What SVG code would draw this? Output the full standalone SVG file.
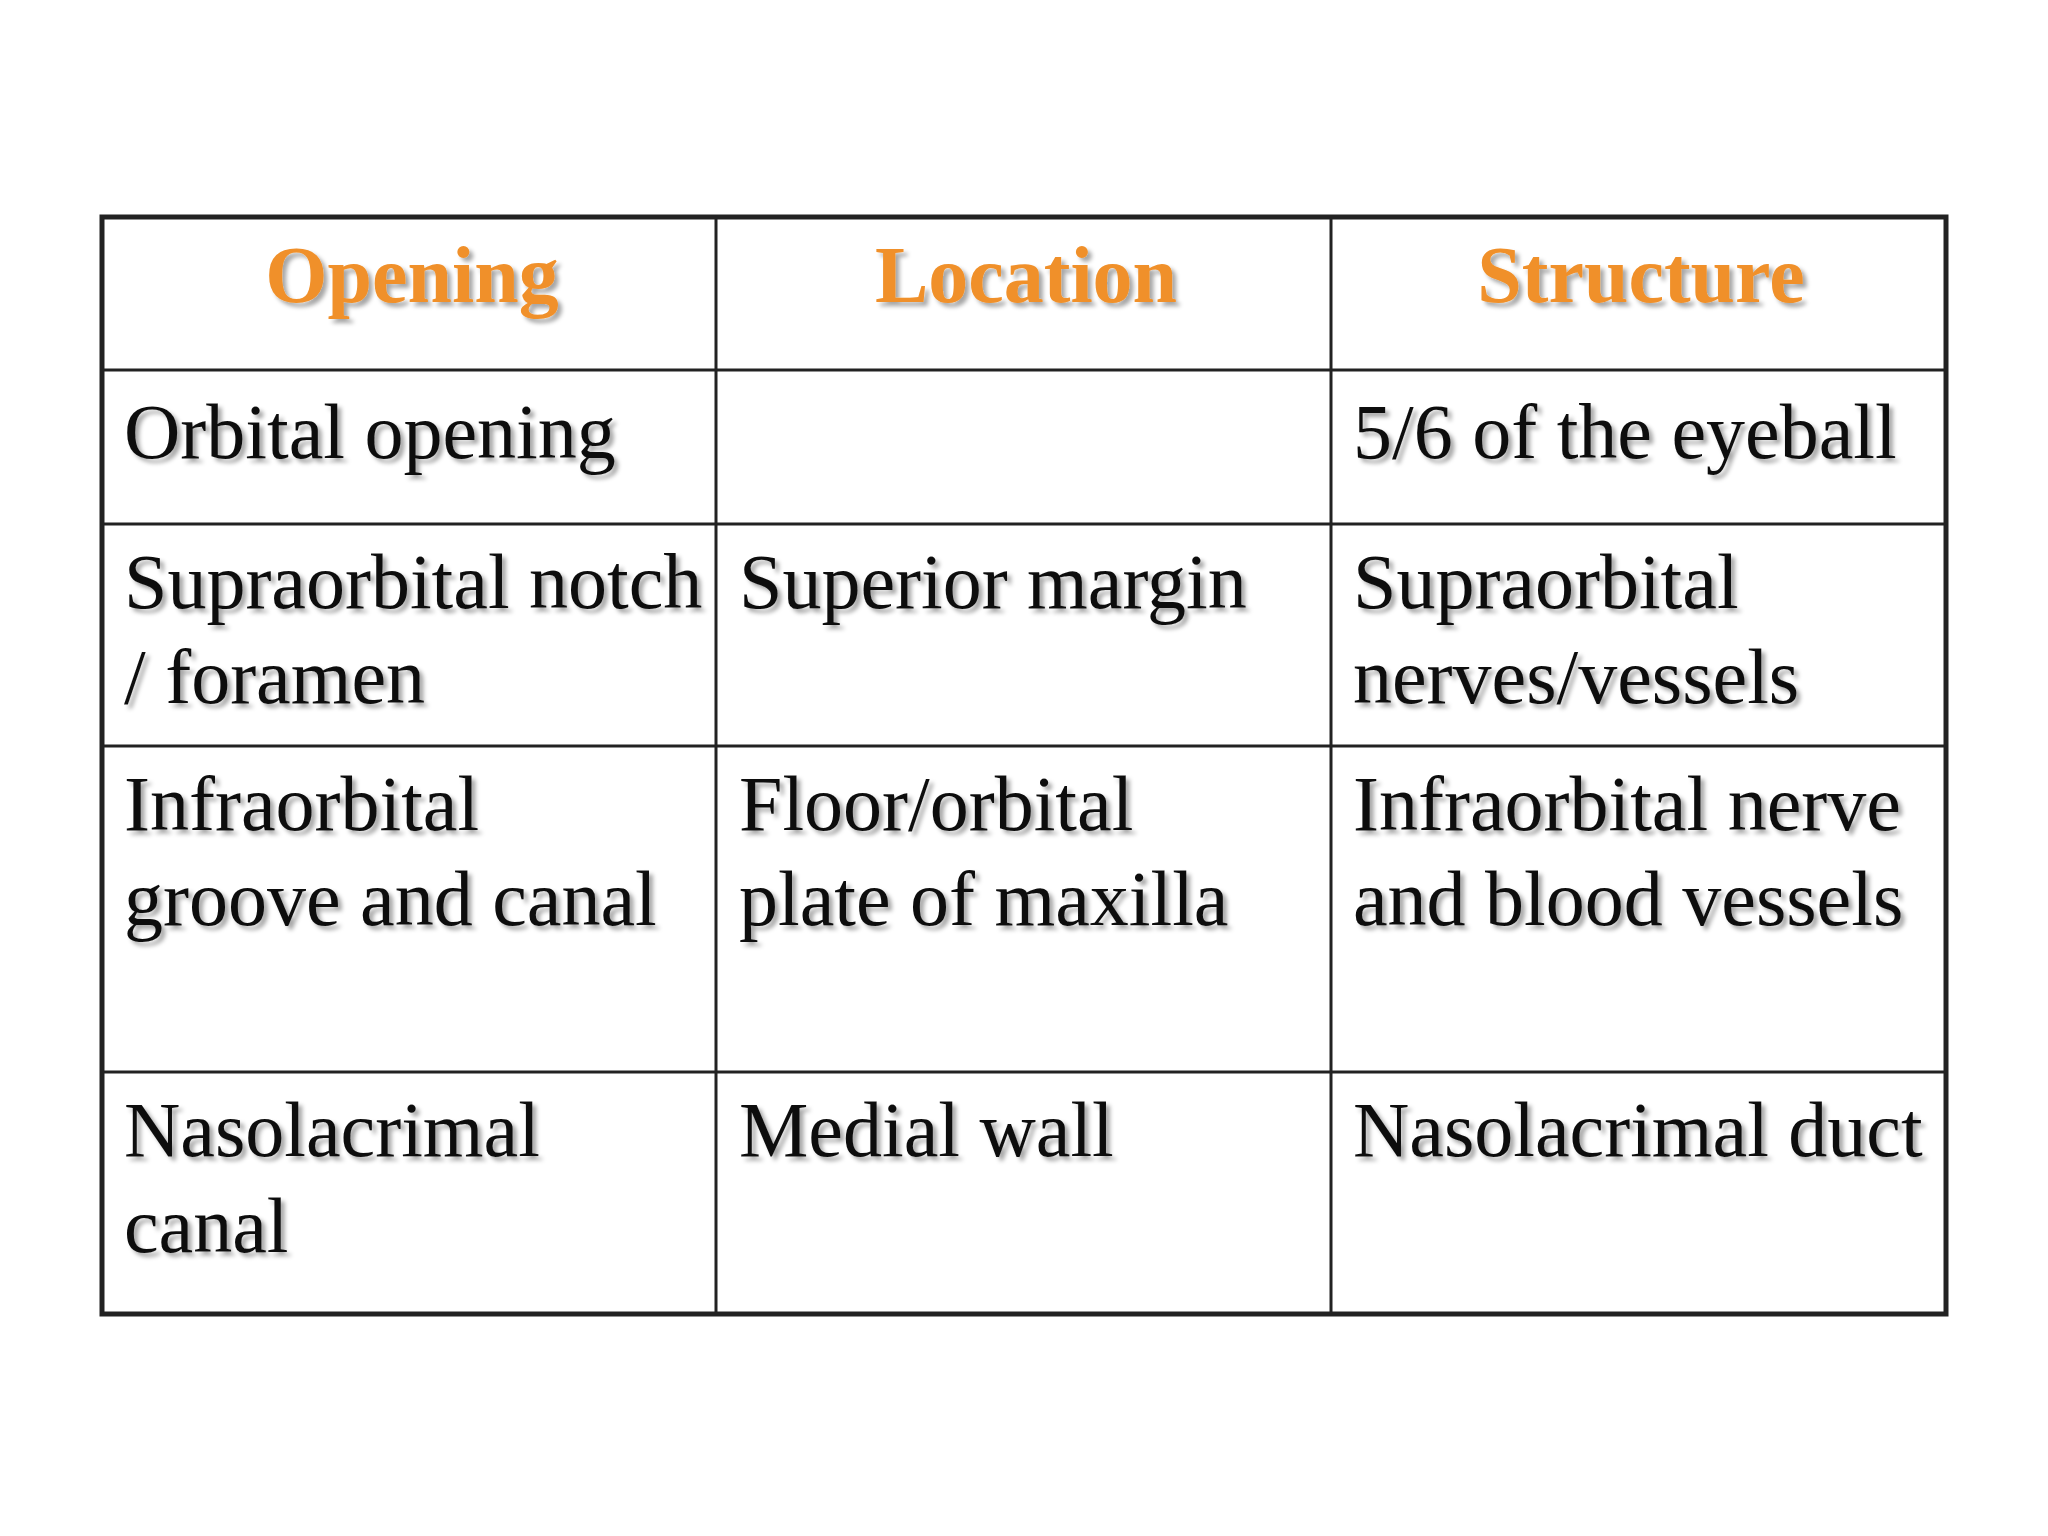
<svg xmlns="http://www.w3.org/2000/svg" width="2048" height="1536" viewBox="0 0 2048 1536">
<defs>
<filter id="sh" x="-5%" y="-20%" width="110%" height="140%"><feDropShadow dx="4" dy="4" stdDeviation="2" flood-color="#000" flood-opacity="0.35"/></filter>
</defs>
<style>
text{font-family:"Liberation Serif","Times New Roman",serif;font-size:78px;fill:#111;filter:url(#sh)}
.h{fill:#F0902A;font-weight:bold;text-anchor:middle;font-size:80px}
.g{stroke:#222;stroke-width:3;fill:none}
</style>
<rect width="2048" height="1536" fill="#fff"/>
<g id="grid">
<rect class="g" x="102" y="217" width="1844" height="1097" style="stroke-width:5"/>
<path class="g" d="M716 217V1314M1331 217V1314M102 370H1946M102 524H1946M102 746H1946M102 1072H1946"/>
</g>
<g id="header">
<text class="h" x="412" y="302">Opening</text>
<text class="h" x="1026" y="302">Location</text>
<text class="h" x="1641" y="302">Structure</text>
</g>
<g id="row1"><text x="124" y="458">Orbital opening</text><text x="1353" y="458">5/6 of  the eyeball</text></g>
<g id="row2"><text x="124" y="608">Supraorbital notch</text><text x="124" y="703">/  foramen</text>
<text x="739" y="608">Superior margin</text>
<text x="1353" y="608">Supraorbital</text><text x="1353" y="703">nerves/vessels</text></g>
<g id="row3"><text x="124" y="830">Infraorbital</text><text x="124" y="925">groove and canal</text>
<text x="739" y="830">Floor/orbital</text><text x="739" y="925">plate of  maxilla</text>
<text x="1353" y="830">Infraorbital nerve</text><text x="1353" y="925">and blood vessels</text></g>
<g id="row4"><text x="124" y="1156">Nasolacrimal</text><text x="124" y="1252">canal</text>
<text x="739" y="1156">Medial wall</text>
<text x="1353" y="1156">Nasolacrimal duct</text></g>
</svg>
